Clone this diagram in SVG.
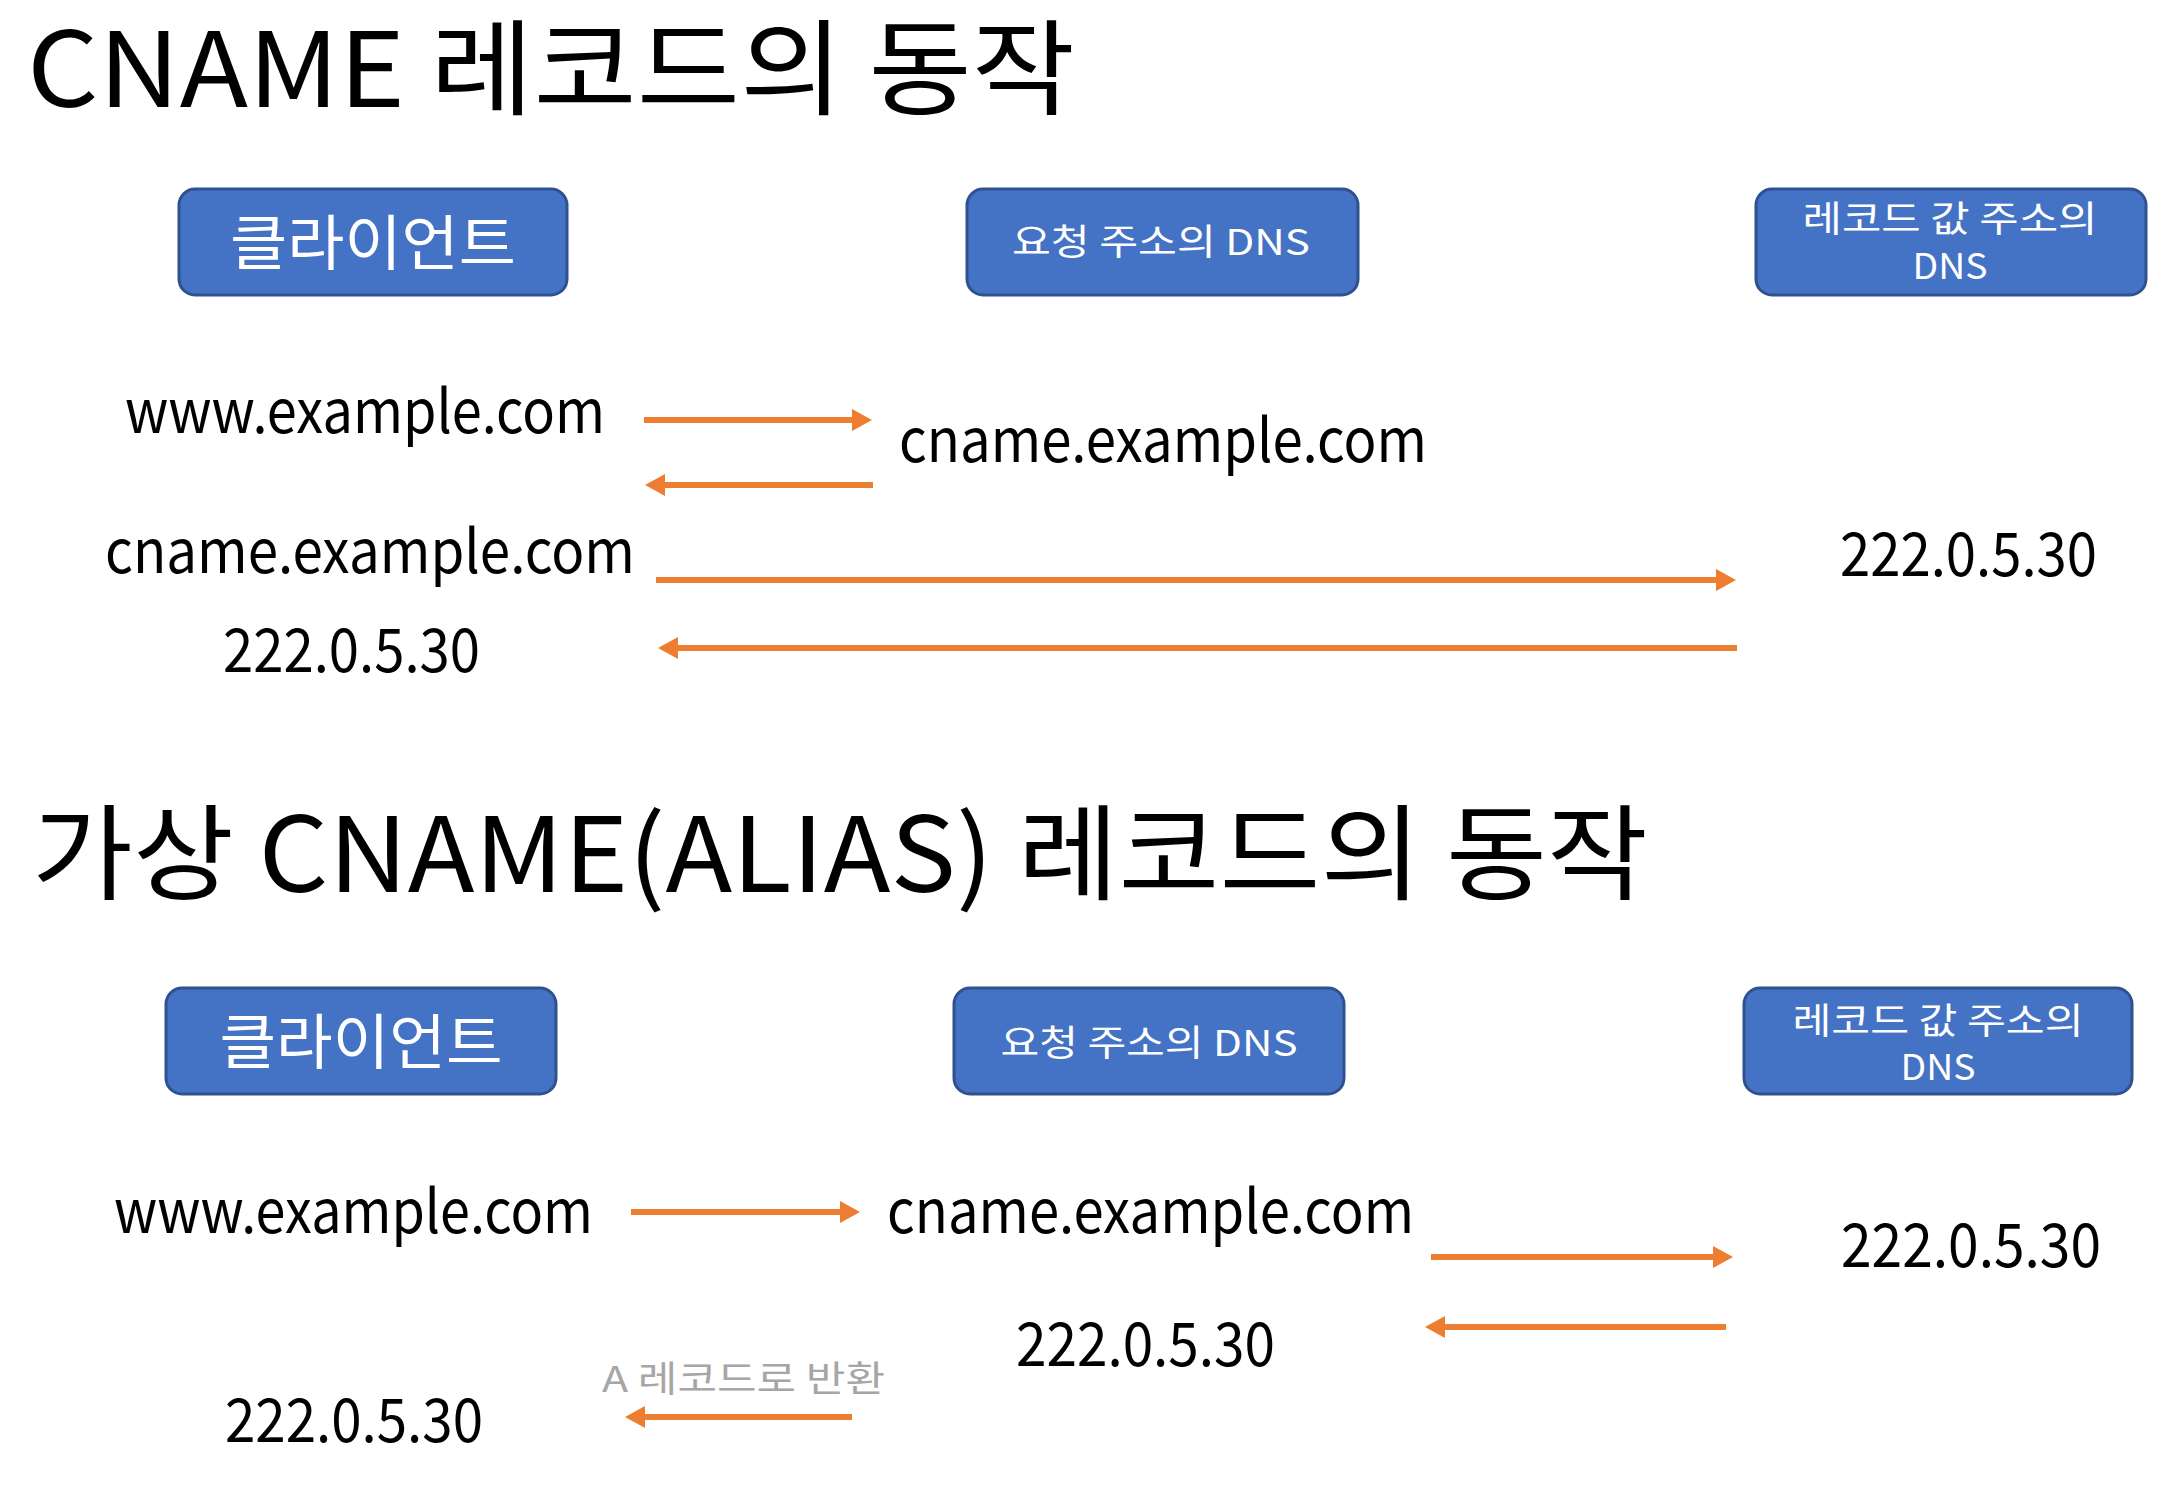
<svg xmlns="http://www.w3.org/2000/svg" width="2180" height="1486" viewBox="0 0 2180 1486">
<defs>
<style>
text{font-family:"Noto Sans CJK KR","Noto Sans",sans-serif;fill:#000}
.title{font-size:104px}
.lbl{font-size:60px}
.box rect{fill:#4472C4;stroke:#2F528F;stroke-width:3}
.big{font-size:60px;fill:#fff;text-anchor:middle}
.sm{font-size:36px;fill:#fff;text-anchor:middle}
.note{font-size:36px;fill:#A6A6A6}
.arr{stroke:#ED7D31;stroke-width:6;fill:none;marker-end:url(#ah)}
</style>
<marker id="ah" markerUnits="userSpaceOnUse" markerWidth="20" markerHeight="22" refX="1" refY="11" orient="auto" overflow="visible">
<path d="M0,0 L20,11 L0,22 z" fill="#ED7D31"/>
</marker>
</defs>
<rect width="2180" height="1486" fill="#fff"/>

<g id="title1"><text class="title" x="27" y="107" textLength="1048" lengthAdjust="spacingAndGlyphs">CNAME 레코드의 동작</text></g>

<g id="client1" class="box"><rect x="179" y="189" width="388" height="106" rx="16"/><text class="big" x="373" y="265" textLength="286" lengthAdjust="spacingAndGlyphs">클라이언트</text></g>
<g id="reqdns1" class="box"><rect x="967" y="189" width="391" height="106" rx="16"/><text class="sm" x="1161" y="255" textLength="298" lengthAdjust="spacingAndGlyphs">요청 주소의 DNS</text></g>
<g id="recdns1" class="box"><rect x="1756" y="189" width="390" height="106" rx="16"/><text class="sm" x="1950" y="232" textLength="295" lengthAdjust="spacingAndGlyphs">레코드 값 주소의</text><text class="sm" x="1950" y="279" textLength="75" lengthAdjust="spacingAndGlyphs">DNS</text></g>

<g id="texts1">
<text class="lbl" x="125" y="433" textLength="480" lengthAdjust="spacingAndGlyphs">www.example.com</text>
<text class="lbl" x="899" y="462" textLength="528" lengthAdjust="spacingAndGlyphs">cname.example.com</text>
<text class="lbl" x="105" y="573" textLength="530" lengthAdjust="spacingAndGlyphs">cname.example.com</text>
<text class="lbl" x="223" y="672" textLength="257" lengthAdjust="spacingAndGlyphs">222.0.5.30</text>
<text class="lbl" x="1840" y="576" textLength="257" lengthAdjust="spacingAndGlyphs">222.0.5.30</text>
</g>

<g id="title2"><text class="title" x="32" y="892" textLength="1616" lengthAdjust="spacingAndGlyphs">가상 CNAME(ALIAS) 레코드의 동작</text></g>

<g id="client2" class="box"><rect x="166" y="988" width="390" height="106" rx="16"/><text class="big" x="361" y="1064" textLength="283" lengthAdjust="spacingAndGlyphs">클라이언트</text></g>
<g id="reqdns2" class="box"><rect x="954" y="988" width="390" height="106" rx="16"/><text class="sm" x="1149" y="1056" textLength="297" lengthAdjust="spacingAndGlyphs">요청 주소의 DNS</text></g>
<g id="recdns2" class="box"><rect x="1744" y="988" width="388" height="106" rx="16"/><text class="sm" x="1938" y="1034" textLength="291" lengthAdjust="spacingAndGlyphs">레코드 값 주소의</text><text class="sm" x="1938" y="1080" textLength="75" lengthAdjust="spacingAndGlyphs">DNS</text></g>

<g id="texts2">
<text class="lbl" x="114" y="1233" textLength="479" lengthAdjust="spacingAndGlyphs">www.example.com</text>
<text class="lbl" x="887" y="1233" textLength="527" lengthAdjust="spacingAndGlyphs">cname.example.com</text>
<text class="lbl" x="1841" y="1267" textLength="260" lengthAdjust="spacingAndGlyphs">222.0.5.30</text>
<text class="lbl" x="1016" y="1366" textLength="259" lengthAdjust="spacingAndGlyphs">222.0.5.30</text>
<text class="note" x="602" y="1392" textLength="283" lengthAdjust="spacingAndGlyphs">A 레코드로 반환</text>
<text class="lbl" x="225" y="1442" textLength="258" lengthAdjust="spacingAndGlyphs">222.0.5.30</text>
</g>

<g id="connectors">
<line class="arr" x1="644" y1="420" x2="853" y2="420"/>
<line class="arr" x1="873" y1="485" x2="664" y2="485"/>
<line class="arr" x1="656" y1="580" x2="1717" y2="580"/>
<line class="arr" x1="1737" y1="648" x2="677" y2="648"/>
<line class="arr" x1="631" y1="1212" x2="841" y2="1212"/>
<line class="arr" x1="1431" y1="1257" x2="1714" y2="1257"/>
<line class="arr" x1="1726" y1="1327" x2="1444" y2="1327"/>
<line class="arr" x1="852" y1="1417" x2="644" y2="1417"/>
</g>
</svg>
